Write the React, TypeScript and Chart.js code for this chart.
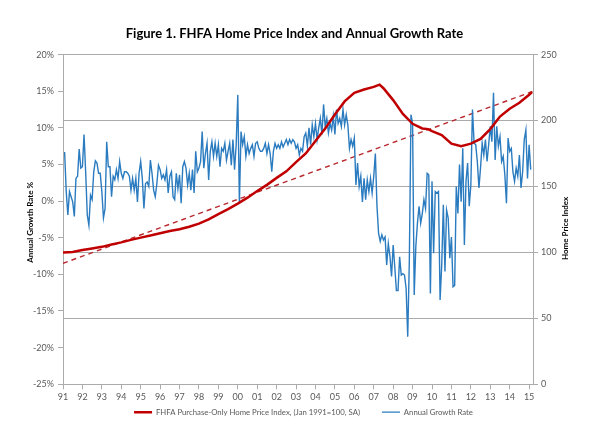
import React, { useEffect, useRef } from "react";
import { Chart, registerables } from "chart.js";

Chart.register(...registerables);

// X-axis tick years (labelled as two-digit years)
const xTickYears = [
  1991, 1992, 1993, 1994, 1995, 1996, 1997, 1998, 1999, 2000, 2001, 2002, 2003,
  2004, 2005, 2006, 2007, 2008, 2009, 2010, 2011, 2012, 2013, 2014, 2015,
];

// Annual growth rate (%), monthly, starting Feb 1991
const growthStartYear = 1991 + 1 / 12;
const growth1991to1997 = [
  6.7, 1.3, -1.9, 1.3, 0.6, -0.1, -2.1, 3.1, 3.4, 7.1, 4.5, 4.7, 9.1, 4.0, -1.9,
  -3.3, 0.8, 0.2, 4.0, 5.5, 5.2, 3.8, 3.8, 1.3, -2.3, -1.0, 8.1, 4.7, 4.7, 0.6,
  3.4, 2.9, 4.3, 3.1, 5.4, 3.8, 3.1, 4.0, 4.0, 3.8, 3.4, 1.5, 3.1, 1.5, 3.1,
  -0.1, 3.8, 5.4, 3.1, -1.0, 2.4, 2.6, 2.0, 5.6, 3.8, 1.5, 0.6, 2.4, 4.9, 4.3,
  3.1, 3.6, 2.9, 4.3, 1.1, 3.4, 4.0, 0.6, 0.2, 3.8, 1.7, 3.6, -0.3, 4.7, 5.4,
];
const growth1997to2003 = [
  4.5, 2.2, 3.8, 1.5, 4.3, 1.1, 6.8, 4.0, 4.5, 5.4, 9.5, 4.5, 6.5, 7.9, 2.9,
  6.8, 8.1, 6.1, 7.9, 6.1, 7.7, 4.7, 7.2, 6.8, 7.9, 5.6, 6.8, 7.9, 4.9, 8.4,
  4.3, 7.7, 14.5, -0.3, 9.5, 7.7, 8.8, 6.1, 7.7, 6.5, 7.2, 7.7, 6.1, 7.9, 8.1,
  7.2, 6.8, 6.8, 7.2, 7.9, 6.5, 7.7, 6.5, 4.0, 6.8, 7.9, 7.2, 7.7, 7.2, 8.1,
  7.4, 7.9, 8.4, 7.7, 8.4, 7.9, 8.4, 8.1, 7.2, 7.7, 6.3, 7.2, 6.8, 8.8,
];
const growth2003to2009 = [
  9.3, 7.5, 10.0, 7.7, 10.4, 8.8, 10.6, 8.4, 10.0, 11.3, 9.1, 13.2, 10.2, 11.3,
  9.3, 10.6, 9.7, 11.6, 9.1, 12.5, 10.6, 11.3, 10.2, 12.5, 10.4, 11.8, 10.4, 7.2,
  8.4, 7.5, 8.6, 2.2, 5.2, 2.0, 3.4, -0.1, 3.1, 0.2, 2.9, 1.3, 3.1, 1.1, 3.4,
  6.5, -0.7, -4.4, -5.5, -4.6, -5.3, -4.9, -8.7, -5.8, -7.5, -10.3, -6.0, -9.0,
  -12.2, -12.2, -7.6, -10.1, -9.9, -10.1, -11.9, -18.5, -8.0, 11.8, 10.6, -12.8,
  -6.2, -3.0, -0.7, -3.0, -1.7, 0.2,
];
const growth2009to2015 = [
  -1.0, 3.8, 3.6, -12.6, 2.7, -7.1, 1.3, 1.1, 1.3, -13.5, -8.7, -0.5, -9.6,
  -1.2, -2.3, -7.8, -4.9, -11.7, -11.5, 2.0, -1.7, 5.0, -0.1, 7.2, -6.0, 2.7,
  5.2, -0.7, 2.2, 12.5, 7.9, 7.7, 5.4, 1.8, 4.6, 7.9, 6.3, 8.4, 5.4, 7.7, 10.2,
  8.1, 14.8, 5.6, 10.2, 7.5, 8.8, 5.4, 6.1, 3.6, -0.3, 8.6, 6.8, 7.2, 4.0, 2.7,
  4.5, 3.4, 6.3, 1.8, 4.0, 8.4, 9.7, 3.1, 7.7, 4.3,
];

// FHFA purchase-only HPI (Jan 1991 = 100), right axis
const hpiDates = [
  1991.0, 1991.5, 1992.0, 1992.5, 1993.0, 1993.5, 1994.0, 1994.5, 1995.0, 1995.5,
  1996.0, 1996.5, 1997.0, 1997.5, 1998.0, 1998.5, 1999.0, 1999.5, 2000.0, 2000.5,
  2001.0, 2001.5, 2002.0, 2002.5, 2003.0, 2003.5, 2004.0, 2004.5, 2005.0, 2005.5,
  2006.0, 2006.5, 2007.0, 2007.3, 2007.5, 2008.0, 2008.5, 2009.0, 2009.5, 2009.8,
  2010.0, 2010.5, 2011.0, 2011.5, 2012.0, 2012.5, 2013.0, 2013.5, 2014.0, 2014.5,
  2015.0, 2015.15,
];
const hpiValues = [
  100.0, 100.3, 101.8, 103.0, 104.2, 106.0, 107.6, 109.5, 111.2, 112.8,
  114.5, 116.2, 117.5, 119.5, 121.8, 125.0, 129.0, 132.8, 137.0, 141.5,
  146.5, 151.2, 156.5, 161.5, 168.5, 175.0, 184.5, 194.0, 204.5, 214.5,
  221.0, 223.5, 225.5, 227.2, 224.5, 215.5, 205.0, 197.5, 194.0, 193.5,
  192.0, 189.0, 182.5, 180.5, 182.5, 186.0, 193.5, 203.0, 209.0, 213.5,
  219.5, 221.5,
];

// Linear trend of the HPI (dashed)
const trendDates = [1991.0, 2015.17];
const trendValues = [91.7, 222.0];

const TITLE = "Figure 1. FHFA Home Price Index and Annual Growth Rate";
const HPI_LABEL = "FHFA Purchase-Only Home Price Index, (Jan 1991=100, SA)";
const GROWTH_LABEL = "Annual Growth Rate";
const LEFT_TITLE = "Annual Growth Rate %";
const RIGHT_TITLE = "Home Price Index";

const FONT = "Lato";
const GRAY_TEXT = "#595959";
const GRID = "#ababab";

// Nudge the legend block up and slightly right (its placement in the reference)
const legendNudgePlugin = {
  id: "legendNudgePlugin",
  afterUpdate(chart: any) {
    const l = chart.legend;
    if (!l) return;
    l.top -= 16;
    l.bottom -= 16;
    l.left += 9;
    l.right += 9;
  },
};

const axisTitlePlugin = {
  id: "axisTitlePlugin",
  afterDraw(chart: any) {
    const { ctx, chartArea } = chart;
    const cy = (chartArea.top + chartArea.bottom) / 2 + 3;
    ctx.save();
    ctx.font = `bold 8px ${FONT}`;
    ctx.fillStyle = "#000";
    ctx.textAlign = "center";
    ctx.textBaseline = "middle";
    ctx.translate(30, cy);
    ctx.rotate(-Math.PI / 2);
    ctx.fillText(LEFT_TITLE, 0, 0);
    ctx.restore();
    ctx.save();
    ctx.font = `bold 8px ${FONT}`;
    ctx.fillStyle = "#000";
    ctx.textAlign = "center";
    ctx.textBaseline = "middle";
    ctx.translate(565, cy + 6);
    ctx.rotate(-Math.PI / 2);
    ctx.fillText(RIGHT_TITLE, 0, 0);
    ctx.restore();
  },
};

export default function App() {
  const ref = useRef<HTMLCanvasElement | null>(null);

  useEffect(() => {
    if (!ref.current) return;
    const growthAll = [
      ...growth1991to1997,
      ...growth1997to2003,
      ...growth2003to2009,
      ...growth2009to2015,
    ];
    const growthPoints = growthAll.map((v, i) => ({
      x: growthStartYear + i / 12,
      y: v,
    }));
    const hpiPoints = hpiDates.map((d, i) => ({ x: d, y: hpiValues[i] }));
    const trendPoints = trendDates.map((d, i) => ({ x: d, y: trendValues[i] }));

    const chart = new Chart(ref.current, {
      type: "line",
      data: {
        datasets: [
          {
            label: HPI_LABEL,
            data: hpiPoints,
            yAxisID: "y1",
            borderColor: "#c00000",
            backgroundColor: "#c00000",
            borderWidth: 2.5,
            pointRadius: 0,
            tension: 0,
          },
          {
            label: GROWTH_LABEL,
            data: growthPoints,
            yAxisID: "y",
            borderColor: "#2a7bbf",
            backgroundColor: "#2a7bbf",
            borderWidth: 1.4,
            pointRadius: 0,
            tension: 0,
          },
          {
            label: "Trend",
            data: trendPoints,
            yAxisID: "y1",
            borderColor: "#b8282d",
            backgroundColor: "#b8282d",
            borderWidth: 1.4,
            borderDash: [5, 4],
            pointRadius: 0,
          },
        ],
      },
      options: {
        responsive: false,
        animation: false,
        layout: { padding: { left: 0, right: 0, top: 0, bottom: 0 } },
        plugins: {
          title: {
            display: true,
            text: TITLE,
            color: "#000",
            font: { family: FONT, size: 13, weight: "bold" },
            padding: { top: 26, bottom: 13 },
          },
          legend: {
            position: "bottom",
            labels: {
              filter: (item: any) => item.text !== "Trend",
              usePointStyle: true,
              pointStyle: "line",
              pointStyleWidth: 18,
              color: GRAY_TEXT,
              font: { family: FONT, size: 7.75 },
              padding: 22,
            },
          },
          tooltip: { enabled: false },
        },
        scales: {
          x: {
            type: "linear",
            min: 1991,
            max: 2015.2,
            afterBuildTicks: (scale: any) => {
              scale.ticks = xTickYears.map((v) => ({ value: v }));
            },
            afterFit: (scale: any) => {
              scale.height = 18;
            },
            ticks: {
              autoSkip: false,
              maxRotation: 0,
              color: GRAY_TEXT,
              font: { family: FONT, size: 9 },
              padding: 2,
              callback: (v: any) => String(Number(v) % 100).padStart(2, "0"),
            },
            grid: {
              drawOnChartArea: false,
              drawTicks: true,
              tickLength: 5,
              color: GRID,
            },
            border: { display: true, color: GRID },
          },
          y: {
            type: "linear",
            position: "left",
            min: -25,
            max: 20,
            afterFit: (scale: any) => {
              scale.width = 63;
            },
            ticks: {
              stepSize: 5,
              color: GRAY_TEXT,
              font: { family: FONT, size: 9 },
              padding: 4,
              callback: (v: any) => `${v}%`,
            },
            grid: {
              drawOnChartArea: false,
              drawTicks: true,
              tickLength: 5,
              color: GRID,
            },
            border: { display: true, color: GRID },
          },
          y1: {
            type: "linear",
            position: "right",
            min: 0,
            max: 250,
            afterFit: (scale: any) => {
              scale.width = 56;
            },
            ticks: {
              stepSize: 50,
              color: GRAY_TEXT,
              font: { family: FONT, size: 9 },
              padding: 3,
            },
            grid: {
              drawOnChartArea: true,
              drawTicks: true,
              tickLength: 5,
              color: GRID,
            },
            border: { display: true, color: GRID },
          },
        },
      },
      plugins: [legendNudgePlugin, axisTitlePlugin],
    } as any);

    return () => chart.destroy();
  }, []);

  return (
    <div
      style={{
        position: "absolute",
        left: 0,
        top: 0,
        width: 589,
        height: 442,
        background: "#fff",
      }}
    >
      <canvas ref={ref} width={589} height={442} />
    </div>
  );
}
